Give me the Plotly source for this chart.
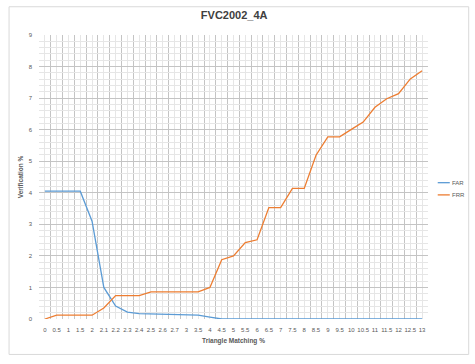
import plotly.graph_objects as go

categories = ["0", "0.5", "1", "1.5", "2", "2.1", "2.2", "2.3", "2.4", "2.5", "2.6", "2.7",
              "3", "3.5", "4", "4.5", "5", "5.5", "6", "6.5", "7", "7.5", "8", "8.5",
              "9", "9.5", "10", "10.5", "11", "11.5", "12", "12.5", "13"]
far = [4.05, 4.05, 4.05, 4.05, 3.1, 1.0, 0.41, 0.22, 0.17, 0.16, 0.15, 0.14,
       0.14, 0.12, 0.06, 0.0, 0.0, 0.0, 0.0, 0.0, 0.0, 0.0, 0.0, 0.0,
       0.0, 0.0, 0.0, 0.0, 0.0, 0.0, 0.0, 0.0, 0.0]
frr = [0.0, 0.12, 0.12, 0.12, 0.12, 0.35, 0.74, 0.74, 0.74, 0.86, 0.86, 0.86,
       0.86, 0.86, 1.0, 1.88, 2.0, 2.42, 2.51, 3.53, 3.53, 4.14, 4.14, 5.19,
       5.77, 5.77, 6.01, 6.24, 6.71, 6.98, 7.14, 7.61, 7.87]
series_names = ["FAR", "FRR"]
series_colors = ["#5B9BD5", "#ED7D31"]
y_ticks = [0, 1, 2, 3, 4, 5, 6, 7, 8, 9]

FONT = "Liberation Sans Narrow, Liberation Sans, Arial, sans-serif"
TXT = "#595959"

idx = list(range(len(categories)))
fig = go.Figure()
for name, vals, col in zip(series_names, [far, frr], series_colors):
    fig.add_trace(go.Scatter(x=idx, y=vals, mode="lines", name=name,
                             line=dict(color=col, width=1.3), showlegend=False))

fig.update_layout(
    width=475, height=364,
    margin=dict(l=39, r=47, t=35, b=45, autoexpand=False),
    paper_bgcolor="white", plot_bgcolor="white",
    font=dict(family=FONT, color=TXT, size=6),
    title=dict(text="<b>FVC2002_4A</b>", x=0.493, xanchor="center",
               y=1 - 15 / 364, yanchor="middle", automargin=False,
               font=dict(family=FONT, size=11, color="#404040")),
)
fig.update_xaxes(
    range=[-0.5, len(categories) - 0.5], automargin=False,
    tickmode="array", tickvals=idx, ticktext=categories,
    showgrid=True, gridcolor="#e6e6e6", gridwidth=1,
    ticks="", ticklabelstandoff=6, tickangle=0,
    tickfont=dict(size=6, color=TXT),
    minor=dict(tickmode="array", tickvals=[i - 0.5 for i in range(len(categories) + 1)],
               showgrid=True, gridcolor="#c4c4c4", gridwidth=1, ticks=""),
    zeroline=False, showline=False,
    title=dict(text="<b>Triangle Matching %</b>", font=dict(size=6.5, color=TXT), standoff=6),
)
fig.update_yaxes(
    range=[0, 9], tickmode="array", tickvals=y_ticks, automargin=False,
    showgrid=True, gridcolor="#c4c4c4", gridwidth=1,
    ticks="", ticklabelstandoff=6,
    tickfont=dict(size=6, color=TXT),
    minor=dict(dtick=0.2, showgrid=True, gridcolor="#e6e6e6", gridwidth=1, ticks=""),
    zeroline=False, showline=False,
    title=dict(text="<b>Verification %</b>", font=dict(size=6.5, color=TXT), standoff=4),
)

# legend (drawn at the right side like the original)
leg_y = [0.48, 0.437]
for name, col, yy in zip(series_names, series_colors, leg_y):
    fig.add_shape(type="line", xref="paper", yref="paper",
                  x0=1.025, x1=1.056, y0=yy, y1=yy, line=dict(color=col, width=1.3))
    fig.add_annotation(xref="paper", yref="paper", x=1.057, y=yy, text=name,
                       showarrow=False, xanchor="left", yanchor="middle",
                       font=dict(size=6, color=TXT))

# chart border
fig.add_shape(type="rect", xref="paper", yref="paper",
              x0=-0.077, x1=1.1046, y0=-0.1248, y1=1.0995,
              line=dict(color="#d9d9d9", width=1), layer="below")

fig.write_html("out.html", config={"displayModeBar": False},
               post_script="document.body.style.margin='0';")
